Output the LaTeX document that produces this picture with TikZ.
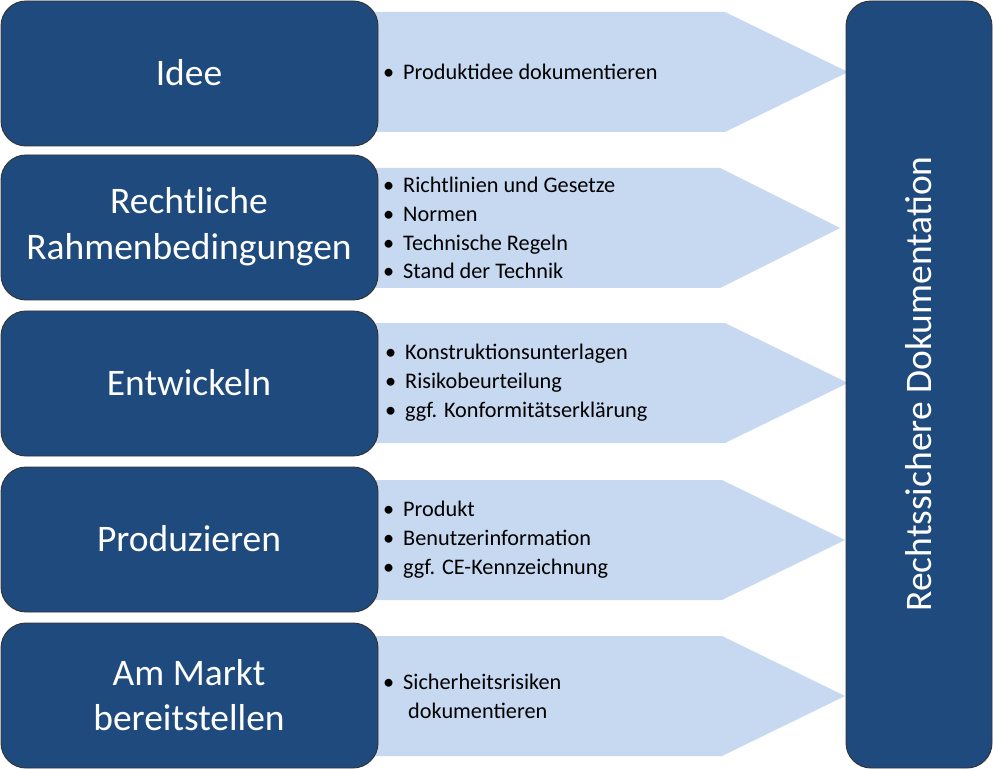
\documentclass[tikz,border=0pt]{standalone}
\usepackage{fontspec}
\setmainfont{Carlito}
\begin{document}
\begin{tikzpicture}[x=0.03cm,y=-0.03cm,
 box/.style={draw=black!80,line width=0.8pt,fill=dblue,rounded corners=0.75cm},
 arr/.style={fill=lblue,draw=none},
 ttl/.style={text=white,font=\fontsize{32}{39}\selectfont,align=center},
 blt/.style={anchor=west,font=\fontsize{19}{24.6}\selectfont,align=left,inner sep=0pt}]
\definecolor{dblue}{HTML}{1F4A7E}
\definecolor{lblue}{HTML}{C6D9F1}
\useasboundingbox (0,0) rectangle (993,769);
\foreach \t/\h/\tx/\ty in {12/725/848/72,168/720/840/228,323/725/848/383,480/722/845/540,636/722/845/696}{
 \fill[lblue] (370,\t) -- (\h,\t) -- (\tx,\ty) -- (\h,\t+120) -- (370,\t+120) -- cycle;}
\draw[box] (1,1) rectangle (378,146); \node[ttl] (a) at (189,73) {Idee};
\draw[box] (1,155) rectangle (378,300); \node[ttl] (b) at (189,227) {Rechtliche\\Rahmenbedingungen};
\draw[box] (1,311) rectangle (378,456); \node[ttl] (c) at (189,383) {Entwickeln};
\draw[box] (1,467) rectangle (378,612); \node[ttl] (d) at (189,539) {Produzieren};
\draw[box] (1,623) rectangle (378,768); \node[ttl] (e) at (189,695) {Am Markt\\bereitstellen};
\draw[box] (846,1) rectangle (992,768);
\node[ttl,rotate=90] (r) at (919,384) {Rechtssichere Dokumentation};
\newcommand{\bl}{\makebox[20\dimexpr0.03cm\relax][l]{\textbullet}}
\node[blt] (p1) at (383,72) {\bl Produktidee dokumentieren};
\node[blt] (p2) at (383,228) {\bl Richtlinien und Gesetze\\\bl Normen\\\bl Technische Regeln\\\bl Stand der Technik};
\node[blt] (p3) at (385,383) {\bl Konstruktionsunterlagen\\\bl Risikobeurteilung\\\bl ggf. Konformitätserklärung};
\node[blt] (p4) at (383,540) {\bl Produkt\\\bl Benutzerinformation\\\bl ggf. CE-Kennzeichnung};
\node[blt] (p5) at (383,696) {\bl Sicherheitsrisiken\\\hspace*{25\dimexpr0.03cm\relax}dokumentieren};
\end{tikzpicture}
\end{document}
